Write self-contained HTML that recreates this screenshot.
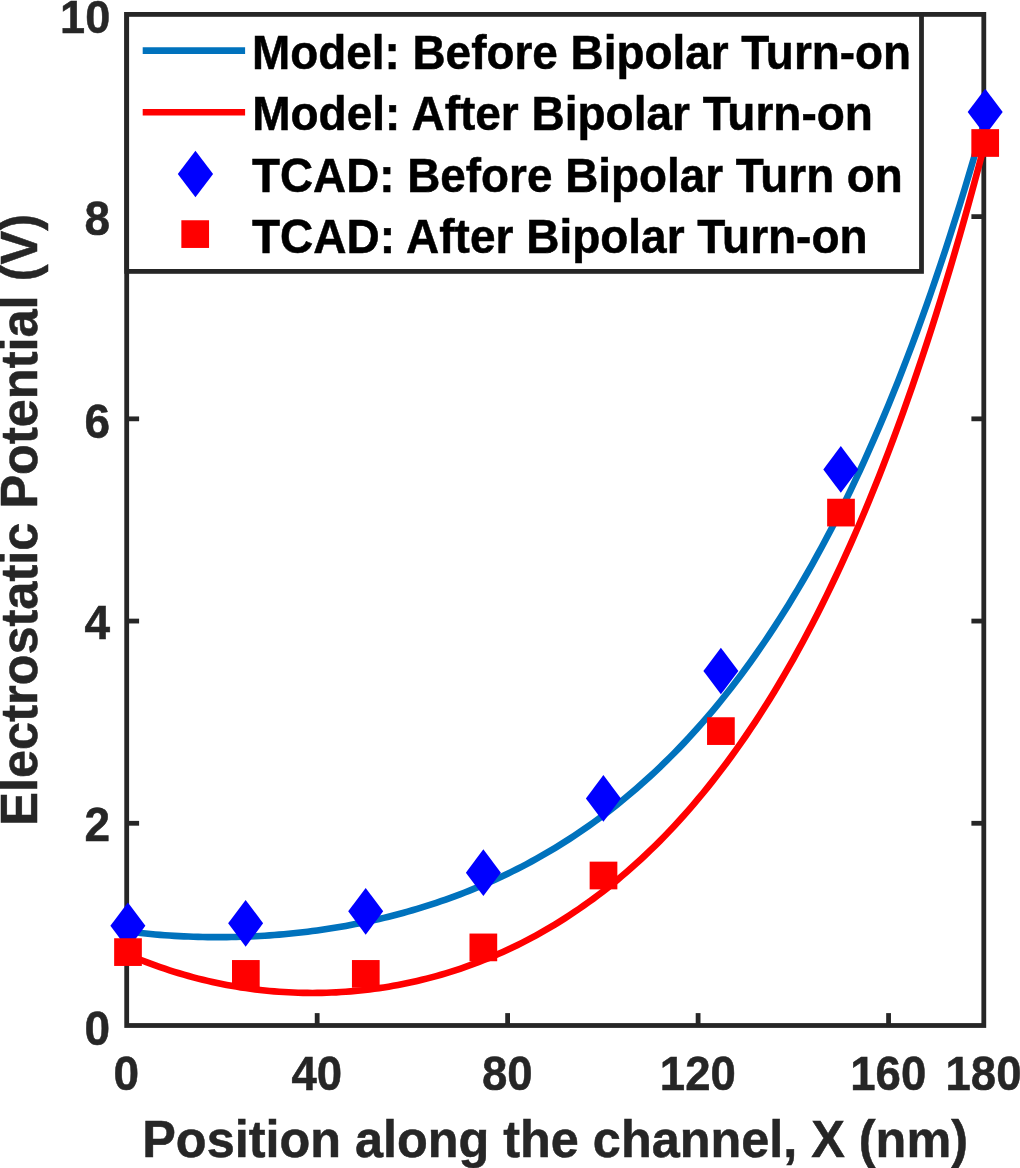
<!DOCTYPE html>
<html lang="en"><head><meta charset="utf-8"><title>Electrostatic Potential</title>
<style>html,body{margin:0;padding:0;background:#fff;overflow:hidden;}svg{display:block;}text{font-family:"Liberation Sans",Arial,Helvetica,sans-serif;font-weight:bold;}</style></head><body>
<svg width="1020" height="1168" viewBox="0 0 1020 1168">
<rect x="0" y="0" width="1020" height="1168" fill="#fff"/>
<g stroke="#262626" stroke-width="4.80" fill="none" stroke-linecap="butt">
<rect x="126.70" y="14.40" width="857.10" height="1011.10"/>
<line x1="317.17" y1="1025.50" x2="317.17" y2="1013.10"/>
<line x1="317.17" y1="14.40" x2="317.17" y2="26.80"/>
<line x1="507.63" y1="1025.50" x2="507.63" y2="1013.10"/>
<line x1="507.63" y1="14.40" x2="507.63" y2="26.80"/>
<line x1="698.10" y1="1025.50" x2="698.10" y2="1013.10"/>
<line x1="698.10" y1="14.40" x2="698.10" y2="26.80"/>
<line x1="888.57" y1="1025.50" x2="888.57" y2="1013.10"/>
<line x1="888.57" y1="14.40" x2="888.57" y2="26.80"/>
<line x1="126.70" y1="823.28" x2="139.10" y2="823.28"/>
<line x1="983.80" y1="823.28" x2="971.40" y2="823.28"/>
<line x1="126.70" y1="621.06" x2="139.10" y2="621.06"/>
<line x1="983.80" y1="621.06" x2="971.40" y2="621.06"/>
<line x1="126.70" y1="418.84" x2="139.10" y2="418.84"/>
<line x1="983.80" y1="418.84" x2="971.40" y2="418.84"/>
<line x1="126.70" y1="216.62" x2="139.10" y2="216.62"/>
<line x1="983.80" y1="216.62" x2="971.40" y2="216.62"/>
</g>
<path d="M126.70 931.41 L131.46 932.00 L136.22 932.56 L140.99 933.08 L145.75 933.57 L150.51 934.03 L155.27 934.46 L160.03 934.86 L164.79 935.22 L169.56 935.55 L174.32 935.86 L179.08 936.13 L183.84 936.36 L188.60 936.57 L193.36 936.75 L198.12 936.90 L202.89 937.01 L207.65 937.09 L212.41 937.15 L217.17 937.17 L221.93 937.16 L226.69 937.12 L231.46 937.05 L236.22 936.95 L240.98 936.82 L245.74 936.65 L250.50 936.46 L255.26 936.24 L260.03 935.98 L264.79 935.69 L269.55 935.37 L274.31 935.02 L279.07 934.64 L283.83 934.23 L288.60 933.78 L293.36 933.31 L298.12 932.80 L302.88 932.25 L307.64 931.68 L312.40 931.07 L317.17 930.43 L321.93 929.76 L326.69 929.05 L331.45 928.31 L336.21 927.54 L340.97 926.73 L345.74 925.88 L350.50 925.00 L355.26 924.09 L360.02 923.14 L364.78 922.16 L369.55 921.14 L374.31 920.08 L379.07 918.99 L383.83 917.85 L388.59 916.68 L393.35 915.48 L398.11 914.23 L402.88 912.95 L407.64 911.62 L412.40 910.26 L417.16 908.85 L421.92 907.41 L426.68 905.92 L431.45 904.39 L436.21 902.82 L440.97 901.21 L445.73 899.55 L450.49 897.85 L455.25 896.10 L460.02 894.31 L464.78 892.47 L469.54 890.58 L474.30 888.65 L479.06 886.67 L483.82 884.64 L488.59 882.56 L493.35 880.43 L498.11 878.25 L502.87 876.02 L507.63 873.74 L512.39 871.40 L517.16 869.01 L521.92 866.56 L526.68 864.06 L531.44 861.50 L536.20 858.88 L540.97 856.21 L545.73 853.47 L550.49 850.67 L555.25 847.82 L560.01 844.90 L564.77 841.91 L569.53 838.86 L574.30 835.75 L579.06 832.57 L583.82 829.32 L588.58 826.00 L593.34 822.61 L598.11 819.15 L602.87 815.62 L607.63 812.01 L612.39 808.33 L617.15 804.57 L621.91 800.73 L626.67 796.82 L631.44 792.82 L636.20 788.74 L640.96 784.58 L645.72 780.33 L650.48 776.00 L655.25 771.58 L660.01 767.07 L664.77 762.46 L669.53 757.77 L674.29 752.98 L679.05 748.09 L683.81 743.10 L688.58 738.02 L693.34 732.83 L698.10 727.54 L702.86 722.15 L707.62 716.65 L712.38 711.03 L717.15 705.31 L721.91 699.48 L726.67 693.53 L731.43 687.46 L736.19 681.27 L740.96 674.96 L745.72 668.52 L750.48 661.96 L755.24 655.28 L760.00 648.46 L764.76 641.50 L769.52 634.41 L774.29 627.19 L779.05 619.82 L783.81 612.31 L788.57 604.65 L793.33 596.84 L798.10 588.88 L802.86 580.77 L807.62 572.50 L812.38 564.07 L817.14 555.47 L821.90 546.71 L826.66 537.78 L831.43 528.67 L836.19 519.39 L840.95 509.94 L845.71 500.29 L850.47 490.47 L855.24 480.45 L860.00 470.24 L864.76 459.83 L869.52 449.22 L874.28 438.41 L879.04 427.39 L883.81 416.16 L888.57 404.71 L893.33 393.05 L898.09 381.15 L902.85 369.03 L907.61 356.68 L912.37 344.09 L917.14 331.26 L921.90 318.18 L926.66 304.85 L931.42 291.27 L936.18 277.42 L940.94 263.31 L945.71 248.93 L950.47 234.28 L955.23 219.34 L959.99 204.12 L964.75 188.61 L969.51 172.79 L974.28 156.68 L979.04 140.26 L983.80 123.53" fill="none" stroke="#0072BD" stroke-width="6.60" stroke-linejoin="round"/>
<path d="M126.70 953.96 L131.46 956.01 L136.22 958.00 L140.99 959.94 L145.75 961.81 L150.51 963.62 L155.27 965.37 L160.03 967.06 L164.79 968.70 L169.56 970.28 L174.32 971.80 L179.08 973.26 L183.84 974.67 L188.60 976.03 L193.36 977.32 L198.12 978.57 L202.89 979.76 L207.65 980.89 L212.41 981.98 L217.17 983.01 L221.93 983.98 L226.69 984.91 L231.46 985.78 L236.22 986.60 L240.98 987.38 L245.74 988.10 L250.50 988.76 L255.26 989.38 L260.03 989.95 L264.79 990.47 L269.55 990.94 L274.31 991.36 L279.07 991.73 L283.83 992.05 L288.60 992.32 L293.36 992.54 L298.12 992.71 L302.88 992.84 L307.64 992.91 L312.40 992.94 L317.17 992.91 L321.93 992.84 L326.69 992.72 L331.45 992.55 L336.21 992.33 L340.97 992.06 L345.74 991.74 L350.50 991.38 L355.26 990.96 L360.02 990.49 L364.78 989.98 L369.55 989.41 L374.31 988.79 L379.07 988.13 L383.83 987.41 L388.59 986.64 L393.35 985.82 L398.11 984.95 L402.88 984.02 L407.64 983.05 L412.40 982.02 L417.16 980.94 L421.92 979.81 L426.68 978.62 L431.45 977.38 L436.21 976.08 L440.97 974.73 L445.73 973.33 L450.49 971.86 L455.25 970.34 L460.02 968.77 L464.78 967.14 L469.54 965.45 L474.30 963.70 L479.06 961.89 L483.82 960.02 L488.59 958.09 L493.35 956.10 L498.11 954.05 L502.87 951.93 L507.63 949.75 L512.39 947.51 L517.16 945.20 L521.92 942.83 L526.68 940.39 L531.44 937.88 L536.20 935.30 L540.97 932.66 L545.73 929.94 L550.49 927.16 L555.25 924.30 L560.01 921.37 L564.77 918.36 L569.53 915.28 L574.30 912.12 L579.06 908.89 L583.82 905.57 L588.58 902.18 L593.34 898.71 L598.11 895.15 L602.87 891.51 L607.63 887.78 L612.39 883.97 L617.15 880.08 L621.91 876.09 L626.67 872.01 L631.44 867.84 L636.20 863.58 L640.96 859.23 L645.72 854.78 L650.48 850.23 L655.25 845.58 L660.01 840.83 L664.77 835.98 L669.53 831.02 L674.29 825.96 L679.05 820.79 L683.81 815.51 L688.58 810.12 L693.34 804.61 L698.10 798.99 L702.86 793.25 L707.62 787.40 L712.38 781.42 L717.15 775.32 L721.91 769.09 L726.67 762.74 L731.43 756.25 L736.19 749.64 L740.96 742.89 L745.72 736.00 L750.48 728.97 L755.24 721.80 L760.00 714.48 L764.76 707.02 L769.52 699.41 L774.29 691.65 L779.05 683.73 L783.81 675.65 L788.57 667.42 L793.33 659.02 L798.10 650.45 L802.86 641.71 L807.62 632.80 L812.38 623.72 L817.14 614.45 L821.90 605.01 L826.66 595.38 L831.43 585.55 L836.19 575.54 L840.95 565.33 L845.71 554.92 L850.47 544.31 L855.24 533.49 L860.00 522.46 L864.76 511.22 L869.52 499.75 L874.28 488.07 L879.04 476.16 L883.81 464.01 L888.57 451.63 L893.33 439.02 L898.09 426.15 L902.85 413.04 L907.61 399.68 L912.37 386.06 L917.14 372.17 L921.90 358.02 L926.66 343.60 L931.42 328.90 L936.18 313.91 L940.94 298.64 L945.71 283.07 L950.47 267.21 L955.23 251.04 L959.99 234.56 L964.75 217.76 L969.51 200.64 L974.28 183.20 L979.04 165.42 L983.80 147.30" fill="none" stroke="#FF0000" stroke-width="6.60" stroke-linejoin="round"/>
<polygon points="127.90,902.50 145.40,925.85 127.90,949.20 110.40,925.85" fill="#0000FF"/>
<polygon points="245.65,899.95 263.15,923.30 245.65,946.65 228.15,923.30" fill="#0000FF"/>
<polygon points="365.70,887.95 383.20,911.30 365.70,934.65 348.20,911.30" fill="#0000FF"/>
<polygon points="483.35,849.35 500.85,872.70 483.35,896.05 465.85,872.70" fill="#0000FF"/>
<polygon points="603.40,775.05 620.90,798.40 603.40,821.75 585.90,798.40" fill="#0000FF"/>
<polygon points="720.90,647.65 738.40,671.00 720.90,694.35 703.40,671.00" fill="#0000FF"/>
<polygon points="840.80,446.05 858.30,469.40 840.80,492.75 823.30,469.40" fill="#0000FF"/>
<polygon points="985.20,88.65 1002.70,112.00 985.20,135.35 967.70,112.00" fill="#0000FF"/>
<rect x="114.15" y="938.25" width="27.70" height="27.70" fill="#FF0000"/>
<rect x="232.00" y="960.05" width="27.70" height="27.70" fill="#FF0000"/>
<rect x="351.95" y="960.05" width="27.70" height="27.70" fill="#FF0000"/>
<rect x="469.50" y="933.55" width="27.70" height="27.70" fill="#FF0000"/>
<rect x="589.65" y="861.65" width="27.70" height="27.70" fill="#FF0000"/>
<rect x="707.05" y="717.25" width="27.70" height="27.70" fill="#FF0000"/>
<rect x="827.15" y="498.75" width="27.70" height="27.70" fill="#FF0000"/>
<rect x="971.35" y="129.15" width="27.70" height="27.70" fill="#FF0000"/>
<text transform="translate(126.40,1089.90) scale(1.0000,1.0500)" font-size="46.00" fill="#262626" stroke="#262626" stroke-width="0.5" text-anchor="middle">0</text>
<text transform="translate(316.87,1089.90) scale(0.9900,1.0500)" font-size="46.00" fill="#262626" stroke="#262626" stroke-width="0.5" text-anchor="middle">40</text>
<text transform="translate(507.33,1089.90) scale(0.9900,1.0500)" font-size="46.00" fill="#262626" stroke="#262626" stroke-width="0.5" text-anchor="middle">80</text>
<text transform="translate(697.80,1089.90) scale(0.9900,1.0500)" font-size="46.00" fill="#262626" stroke="#262626" stroke-width="0.5" text-anchor="middle">120</text>
<text transform="translate(888.27,1089.90) scale(0.9900,1.0500)" font-size="46.00" fill="#262626" stroke="#262626" stroke-width="0.5" text-anchor="middle">160</text>
<text transform="translate(983.50,1089.90) scale(0.9900,1.0500)" font-size="46.00" fill="#262626" stroke="#262626" stroke-width="0.5" text-anchor="middle">180</text>
<text transform="translate(110.20,1044.70) scale(1.0000,1.0250)" font-size="46.00" fill="#262626" stroke="#262626" stroke-width="0.5" text-anchor="end">0</text>
<text transform="translate(110.20,841.38) scale(1.0000,1.0250)" font-size="46.00" fill="#262626" stroke="#262626" stroke-width="0.5" text-anchor="end">2</text>
<text transform="translate(110.20,639.36) scale(1.0000,1.0250)" font-size="46.00" fill="#262626" stroke="#262626" stroke-width="0.5" text-anchor="end">4</text>
<text transform="translate(110.20,437.84) scale(1.0000,1.0250)" font-size="46.00" fill="#262626" stroke="#262626" stroke-width="0.5" text-anchor="end">6</text>
<text transform="translate(110.20,235.42) scale(1.0000,1.0250)" font-size="46.00" fill="#262626" stroke="#262626" stroke-width="0.5" text-anchor="end">8</text>
<text transform="translate(110.20,33.30) scale(0.9800,1.0250)" font-size="46.00" fill="#262626" stroke="#262626" stroke-width="0.5" text-anchor="end">10</text>
<text transform="translate(555.10,1156.60) scale(0.9980,1.0200)" font-size="50.50" fill="#262626" stroke="#262626" stroke-width="0.5" text-anchor="middle">Position along the channel, X (nm)</text>
<text transform="translate(37.30,825.70) rotate(-90) scale(1.0000,1.0200)" font-size="50.50" fill="#262626" stroke="#262626" stroke-width="0.5" text-anchor="start">Electrostatic Potential (V)</text>
<rect x="126.70" y="14.40" width="794.80" height="257.00" fill="#fff" stroke="#262626" stroke-width="4.8"/>
<line x1="142.7" y1="50.6" x2="245.1" y2="50.6" stroke="#0072BD" stroke-width="6.6"/>
<line x1="142.7" y1="112.2" x2="245.1" y2="112.2" stroke="#FF0000" stroke-width="6.6"/>
<polygon points="195.45,150.65 213.10,173.90 195.45,197.15 177.80,173.90" fill="#0000FF"/>
<rect x="181.35" y="220.25" width="27.70" height="27.70" fill="#FF0000"/>
<text transform="translate(252.00,68.60) scale(0.9975,1.0470)" font-size="46.00" fill="#000" stroke="#000" stroke-width="0.5" text-anchor="start">Model: Before Bipolar Turn-on</text>
<text transform="translate(252.20,130.10) scale(1.0000,1.0470)" font-size="46.00" fill="#000" stroke="#000" stroke-width="0.5" text-anchor="start">Model: After Bipolar Turn-on</text>
<text transform="translate(252.00,191.80) scale(0.9965,1.0470)" font-size="46.00" fill="#000" stroke="#000" stroke-width="0.5" text-anchor="start">TCAD: Before Bipolar Turn on</text>
<text transform="translate(252.00,252.80) scale(1.0000,1.0470)" font-size="46.00" fill="#000" stroke="#000" stroke-width="0.5" text-anchor="start">TCAD: After Bipolar Turn-on</text>
</svg></body></html>
